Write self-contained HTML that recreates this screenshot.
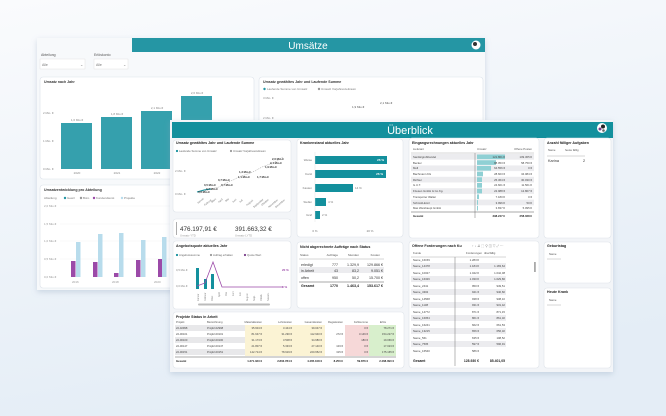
<!DOCTYPE html>
<html><head><meta charset="utf-8"><style>
html,body{margin:0;padding:0;width:666px;height:416px;overflow:hidden;background:#eef3f8}
svg{display:block;font-family:"Liberation Sans",sans-serif}
</style></head><body>
<svg width="666" height="416" viewBox="0 0 666 416" xmlns="http://www.w3.org/2000/svg">
<defs>
<linearGradient id="bg" x1="0" y1="0" x2="0.3" y2="1"><stop offset="0" stop-color="#fafbfd"/><stop offset="1" stop-color="#e4edf6"/></linearGradient>
<filter id="sh" x="-10%" y="-10%" width="120%" height="130%"><feDropShadow dx="0" dy="2" stdDeviation="3" flood-color="#8aa0b8" flood-opacity="0.35"/></filter>
</defs>
<rect width="666" height="416" fill="url(#bg)"/>

<!-- BACK DASHBOARD -->
<g>
<rect x="37" y="38" width="448" height="252" fill="#f7f9fb" filter="url(#sh)"/>
<rect x="132" y="38" width="353" height="14" fill="#2596a4"/>
<text x="308" y="49" font-size="10" fill="#fff" text-anchor="middle">Umsätze</text>
<circle cx="476" cy="45" r="4.5" fill="#fff"/><circle cx="475" cy="44" r="2" fill="#333"/>
<text x="41" y="56" font-size="3.5" fill="#555">Abteilung</text>
<rect x="40" y="59" width="45" height="10" fill="#fff" stroke="#ddd" stroke-width="0.4"/><text x="42" y="66" font-size="3.5" fill="#777">Alle</text><text x="80" y="66" font-size="4" fill="#888">⌄</text>
<text x="94" y="56" font-size="3.5" fill="#555">Erlöskonto</text>
<rect x="94" y="59" width="34" height="10" fill="#fff" stroke="#ddd" stroke-width="0.4"/><text x="96" y="66" font-size="3.5" fill="#777">Alle</text><text x="123" y="66" font-size="4" fill="#888">⌄</text>

<rect x="40" y="77" width="214" height="102" rx="3" fill="#fff" stroke="#dde3ea" stroke-width="0.6"/>
<text x="44" y="83" font-size="3.6" font-weight="bold" fill="#333">Umsatz nach Jahr</text>
<g font-size="3" fill="#888"><text x="43" y="114">2 Mio. €</text><text x="43" y="142">1 Mio. €</text><text x="43" y="170">0 Mio. €</text>
<text x="77" y="174" text-anchor="middle">2020</text><text x="117" y="174" text-anchor="middle">2021</text><text x="157" y="174" text-anchor="middle">2022</text><text x="197" y="174" text-anchor="middle">2023</text>
<text x="77" y="121" text-anchor="middle">1,6 Mio.€</text><text x="117" y="115" text-anchor="middle">1,8 Mio.€</text><text x="157" y="109" text-anchor="middle">2,1 Mio.€</text><text x="197" y="94" text-anchor="middle">2,6 Mio.€</text></g>
<g fill="#35a0ad"><rect x="61" y="123" width="31" height="46"/><rect x="101" y="117" width="31" height="52"/><rect x="141" y="111" width="31" height="58"/><rect x="181" y="96" width="31" height="73"/></g>

<rect x="259" y="77" width="224" height="60" rx="3" fill="#fff" stroke="#dde3ea" stroke-width="0.6"/>
<text x="263" y="83" font-size="3.6" font-weight="bold" fill="#333">Umsatz gewähltes Jahr und Laufende Summe</text>
<circle cx="264.5" cy="89" r="1.2" fill="#2596a4"/><text x="267" y="90" font-size="3" fill="#777">Laufende Summe von Umsatz</text>
<circle cx="319" cy="89" r="1.2" fill="#999"/><text x="321" y="90" font-size="3" fill="#777">Umsatz Vorjahreszeitraum</text>
<text x="263" y="99" font-size="3" fill="#888">3 Mio. €</text><text x="263" y="119" font-size="3" fill="#888">2 Mio. €</text>
<text x="380" y="104" font-size="3" fill="#555">2,1 Mio.€</text><text x="352" y="108" font-size="3" fill="#555">1,9 Mio.€</text>

<rect x="40" y="185" width="200" height="103" rx="3" fill="#fff" stroke="#dde3ea" stroke-width="0.6"/>
<text x="44" y="191" font-size="3.6" font-weight="bold" fill="#333">Umsatzentwicklung pro Abteilung</text>
<g font-size="3" fill="#777"><text x="44" y="199">Abteilung</text>
<circle cx="65" cy="198" r="1.2" fill="#2596a4"/><text x="67" y="199">Gewil</text>
<circle cx="81" cy="198" r="1.2" fill="#999"/><text x="83" y="199">Büro</text>
<circle cx="94" cy="198" r="1.2" fill="#9b4aa8"/><text x="96" y="199">Kundendienst</text>
<circle cx="122" cy="198" r="1.2" fill="#b8dcec"/><text x="124" y="199">Projekte</text></g>
<g font-size="3" fill="#999"><text x="44" y="207">2,0 Mio.€</text><text x="44" y="225">1,5 Mio.€</text><text x="44" y="242">1,0 Mio.€</text><text x="44" y="260">0,5 Mio.€</text><text x="44" y="278">0,0 Mio.€</text>
<text x="72" y="283">2016</text><text x="112" y="283">2018</text><text x="154" y="283">2020</text></g>
<g stroke="#eef0f3" stroke-width="0.4"><line x1="60" y1="206" x2="240" y2="206"/><line x1="60" y1="224" x2="240" y2="224"/><line x1="60" y1="241" x2="240" y2="241"/><line x1="60" y1="259" x2="240" y2="259"/></g>
<g fill="#9b4aa8"><rect x="71" y="261" width="4.5" height="16"/><rect x="93" y="262" width="4.5" height="15"/><rect x="114" y="273" width="4.5" height="4"/><rect x="136" y="260" width="4.5" height="17"/><rect x="158" y="259" width="4.5" height="18"/></g>
<g fill="#b8dcec"><rect x="76" y="242" width="4.5" height="35"/><rect x="98" y="234" width="4.5" height="43"/><rect x="119" y="233" width="4.5" height="44"/><rect x="141" y="240" width="4.5" height="37"/><rect x="162" y="237" width="4.5" height="40"/></g>
</g>

<!-- FRONT DASHBOARD -->
<rect x="170" y="120" width="443" height="252" fill="#f3f5f8" filter="url(#sh)"/>
<rect x="172" y="122" width="441" height="16" fill="#13909d"/>
<text x="410" y="134" font-size="11" fill="#fff" text-anchor="middle">Überblick</text>
<circle cx="602" cy="128" r="5" fill="#fff"/><circle cx="603" cy="126.5" r="2" fill="#222"/><circle cx="600" cy="129" r="1.5" fill="#7a3f8a"/><circle cx="603.5" cy="130.5" r="1.3" fill="#666"/>

<g fill="#fff" stroke="#dfe4ea" stroke-width="0.6">
<rect x="173" y="140" width="118" height="72" rx="3"/>
<rect x="173" y="219" width="118" height="19" rx="3"/>
<rect x="173" y="241" width="118" height="68" rx="3"/>
<rect x="297" y="139" width="106" height="98" rx="3"/>
<rect x="297" y="242" width="106" height="66" rx="3"/>
<rect x="173" y="312" width="231" height="56" rx="3"/>
<rect x="409" y="138" width="130" height="100" rx="3"/>
<rect x="409" y="241" width="130" height="127" rx="3"/>
<rect x="544" y="138" width="67" height="100" rx="3"/>
<rect x="544" y="242" width="67" height="41" rx="3"/>
<rect x="544" y="288" width="67" height="80" rx="3"/>
</g>

<!-- Umsatz gewähltes Jahr -->
<text x="176" y="144" font-size="3.6" font-weight="bold" fill="#222">Umsatz gewähltes Jahr und Laufende Summe</text>
<circle cx="177" cy="151" r="1.1" fill="#13909d"/><text x="179" y="152" font-size="2.8" fill="#666">Laufende Summe von Umsatz</text>
<circle cx="231" cy="151" r="1.1" fill="#999"/><text x="233" y="152" font-size="2.8" fill="#666">Umsatz Vorjahreszeitraum</text>
<text x="175" y="172" font-size="3" fill="#888">2 Mio. €</text><text x="175" y="195" font-size="3" fill="#888">0 Mio. €</text>
<polyline points="197,192 204,191 211,189 219,187 226,183 233,180 241,176 248,174 255,171 262,167 270,164 277,161 283,157" fill="none" stroke="#888" stroke-width="0.5" stroke-dasharray="1,1"/>
<polyline points="197,192 204,190 211,189" fill="none" stroke="#13909d" stroke-width="1"/>
<g font-size="2.8" font-weight="bold" fill="#333"><text x="198" y="193">0,6 Mio.€</text><text x="204" y="186">0,5 Mio.€</text><text x="206" y="190">0,7 Mio.€</text><text x="218" y="181">0,7 Mio.€</text><text x="221" y="186">0,7 Mio.€</text><text x="239" y="173">1,3 Mio.€</text><text x="238" y="178">1,1 Mio.€</text><text x="257" y="178">1,7 Mio.€</text><text x="265" y="168">1,9 Mio.€</text><text x="270" y="164">2,1 Mio.€</text><text x="272" y="160">2,6 Mio.€</text></g>
<g font-size="2.6" fill="#777">
<text transform="translate(198,204) rotate(-40)">Januar</text><text transform="translate(205,206) rotate(-40)">Februar</text><text transform="translate(212,203) rotate(-40)">März</text><text transform="translate(219,203) rotate(-40)">April</text><text transform="translate(226,202) rotate(-40)">Mai</text><text transform="translate(233,203) rotate(-40)">Juni</text><text transform="translate(240,203) rotate(-40)">Juli</text><text transform="translate(247,206) rotate(-40)">August</text><text transform="translate(254,208) rotate(-40)">September</text><text transform="translate(262,206) rotate(-40)">Oktober</text><text transform="translate(269,208) rotate(-40)">November</text><text transform="translate(276,208) rotate(-40)">Dezember</text></g>

<!-- KPI -->
<rect x="176" y="222" width="0.8" height="13" fill="#999"/>
<text x="180" y="231" font-size="6.3" fill="#333">476.197,91 €</text><text x="235" y="231" font-size="6.3" fill="#333">391.663,32 €</text>
<text x="180" y="236.5" font-size="2.8" fill="#999">Umsatz YTD</text><text x="235" y="236.5" font-size="2.8" fill="#999">Umsatz LYTD</text>

<!-- Angebotsquote -->
<text x="176" y="247" font-size="3.6" font-weight="bold" fill="#222">Angebotsquote aktuelles Jahr</text>
<circle cx="177" cy="255" r="1.1" fill="#13909d"/><text x="179" y="256" font-size="2.8" fill="#666">Angebotssumme</text>
<circle cx="211" cy="255" r="1.1" fill="#999"/><text x="213" y="256" font-size="2.8" fill="#666">Auftrag erhalten</text>
<circle cx="245" cy="255" r="1.1" fill="#7a3f8a"/><text x="247" y="256" font-size="2.8" fill="#666">Quote Wert</text>
<text x="176" y="271" font-size="2.8" fill="#888">0,5 Mio.€</text><text x="176" y="287" font-size="2.8" fill="#888">0,0 Mio.€</text>
<g fill="#13909d"><rect x="196" y="268" width="3" height="21"/><rect x="204" y="279" width="3" height="10"/><rect x="211" y="274" width="3" height="15"/></g>
<polyline points="197,286 205,283 213,262 222,287 283,287" fill="none" stroke="#9b4aa8" stroke-width="0.8"/>
<text x="282" y="271" font-size="3" font-weight="bold" fill="#9b4aa8">20 %</text><text x="282" y="288" font-size="3" font-weight="bold" fill="#9b4aa8">0 %</text>
<g font-size="2.4" fill="#888"><text transform="translate(199,301) rotate(-90)">Januar</text><text transform="translate(206,301) rotate(-90)">Februar</text><text transform="translate(213,301) rotate(-90)">März</text><text transform="translate(220,297) rotate(-90)">April</text><text transform="translate(227,296) rotate(-90)">Mai</text><text transform="translate(234,296) rotate(-90)">Juni</text><text transform="translate(241,296) rotate(-90)">Juli</text><text transform="translate(248,301) rotate(-90)">August</text><text transform="translate(255,301) rotate(-90)">Sept.</text><text transform="translate(262,301) rotate(-90)">Oktob.</text><text transform="translate(269,301) rotate(-90)">Novem.</text></g>
<rect x="198" y="303.5" width="72" height="2" rx="1" fill="#bbb"/>

<!-- Krankenstand -->
<text x="300" y="144" font-size="3.6" font-weight="bold" fill="#222">Krankenstand aktuelles Jahr</text>
<g fill="#13909d"><rect x="315" y="156" width="72" height="8"/><rect x="315" y="170" width="71" height="8"/><rect x="315" y="184" width="38" height="8"/><rect x="315" y="198" width="11" height="8"/><rect x="315" y="211" width="5" height="8"/></g>
<g font-size="3" fill="#777"><text x="312" y="161" text-anchor="end">Weise</text><text x="312" y="175" text-anchor="end">Karsl</text><text x="312" y="189" text-anchor="end">Kasten</text><text x="312" y="203" text-anchor="end">Stefan</text><text x="312" y="216" text-anchor="end">Graf</text>
<text x="355" y="189">14 %</text><text x="328" y="203">4 %</text><text x="322" y="216">2 %</text><text x="315" y="232" text-anchor="middle">0 %</text><text x="370" y="232" text-anchor="middle">20 %</text></g>
<text x="384" y="161" font-size="3" fill="#fff" text-anchor="end" font-weight="bold">26 %</text><text x="383" y="175" font-size="3" fill="#fff" text-anchor="end" font-weight="bold">26 %</text>
<line x1="315" y1="152" x2="315" y2="222" stroke="#ddd" stroke-width="0.4"/>

<!-- Nicht abgerechnete -->
<text x="300" y="248" font-size="3.6" font-weight="bold" fill="#222">Nicht abgerechnete Aufträge nach Status</text>
<g font-size="3" fill="#555"><text x="300" y="256">Status</text><text x="338" y="256" text-anchor="end">Aufträge</text><text x="359" y="256" text-anchor="end">Stunden</text><text x="380" y="256" text-anchor="end">Kosten</text></g>
<line x1="299" y1="259" x2="384" y2="259" stroke="#999" stroke-width="0.4"/>
<rect x="299" y="267" width="85" height="6" fill="#ececef"/>
<g font-size="3.6" fill="#333"><text x="301" y="266">erledigt</text><text x="338" y="266" text-anchor="end">777</text><text x="359" y="266" text-anchor="end">1.329,9</text><text x="383" y="266" text-anchor="end">129.866 €</text>
<text x="301" y="272">in Arbeit</text><text x="338" y="272" text-anchor="end">43</text><text x="359" y="272" text-anchor="end">83,2</text><text x="383" y="272" text-anchor="end">9.051 €</text>
<text x="301" y="279">offen</text><text x="338" y="279" text-anchor="end">950</text><text x="359" y="279" text-anchor="end">50,2</text><text x="383" y="279" text-anchor="end">15.700 €</text></g>
<line x1="299" y1="282" x2="384" y2="282" stroke="#555" stroke-width="0.5"/>
<g font-size="3.6" font-weight="bold" fill="#222"><text x="301" y="287">Gesamt</text><text x="338" y="287" text-anchor="end">1770</text><text x="359" y="287" text-anchor="end">1.463,4</text><text x="383" y="287" text-anchor="end">153.617 €</text></g>

<!-- Projekte Status -->
<text x="176" y="318" font-size="3.6" font-weight="bold" fill="#222">Projekte Status in Arbeit</text>
<g font-size="2.7" fill="#555"><text x="176" y="323">Projekt</text><text x="207" y="323">Bezeichnung</text><text x="262" y="323" text-anchor="end">Materialkosten</text><text x="292" y="323" text-anchor="end">Lohnkosten</text><text x="322" y="323" text-anchor="end">Gesamtkosten</text><text x="343" y="323" text-anchor="end">Regiekosten</text><text x="368" y="323" text-anchor="end">Fehlsumme</text><text x="386" y="323" text-anchor="end">Erlös</text></g>
<rect x="245" y="325" width="80" height="31" fill="#fbf3d4"/>
<rect x="345" y="325" width="24" height="31" fill="#f6d8d8"/>
<rect x="369" y="325" width="27" height="31" fill="#d8efcc"/>
<rect x="175" y="325" width="70" height="6" fill="#e8e8ea"/><rect x="175" y="337" width="70" height="6" fill="#e8e8ea"/><rect x="175" y="349" width="70" height="6" fill="#e8e8ea"/>
<g font-size="2.7" fill="#444">
<text x="176" y="329">22-02998</text><text x="207" y="329">Proj22-02998</text><text x="262" y="329" text-anchor="end">35.604 €</text><text x="292" y="329" text-anchor="end">3.444 €</text><text x="322" y="329" text-anchor="end">39.047 €</text><text x="368" y="329" text-anchor="end">0 €</text><text x="394" y="329" text-anchor="end">78.271 €</text>
<text x="176" y="335">22-00101</text><text x="207" y="335">Proj22-00101</text><text x="262" y="335" text-anchor="end">81.647 €</text><text x="292" y="335" text-anchor="end">31.290 €</text><text x="322" y="335" text-anchor="end">112.940 €</text><text x="343" y="335" text-anchor="end">272 €</text><text x="368" y="335" text-anchor="end">3.146 €</text><text x="394" y="335" text-anchor="end">154.227 €</text>
<text x="176" y="341">22-00100</text><text x="207" y="341">Proj22-00100</text><text x="262" y="341" text-anchor="end">31.173 €</text><text x="292" y="341" text-anchor="end">3.508 €</text><text x="322" y="341" text-anchor="end">34.680 €</text><text x="368" y="341" text-anchor="end">180 €</text><text x="394" y="341" text-anchor="end">19.066 €</text>
<text x="176" y="347">22-00147</text><text x="207" y="347">Proj22-00147</text><text x="262" y="347" text-anchor="end">21.807 €</text><text x="292" y="347" text-anchor="end">5.333 €</text><text x="322" y="347" text-anchor="end">27.140 €</text><text x="343" y="347" text-anchor="end">103 €</text><text x="368" y="347" text-anchor="end">0 €</text><text x="394" y="347" text-anchor="end">17.023 €</text>
<text x="176" y="353">22-00151</text><text x="207" y="353">Proj22-00151</text><text x="262" y="353" text-anchor="end">142.714 €</text><text x="292" y="353" text-anchor="end">78.919 €</text><text x="322" y="353" text-anchor="end">220.652 €</text><text x="343" y="353" text-anchor="end">315 €</text><text x="368" y="353" text-anchor="end">0 €</text><text x="394" y="353" text-anchor="end">175.165 €</text></g>
<line x1="175" y1="357" x2="396" y2="357" stroke="#555" stroke-width="0.5"/>
<g font-size="2.8" font-weight="bold" fill="#222"><text x="176" y="362">Gesamt</text><text x="262" y="362" text-anchor="end">1.371.323 €</text><text x="292" y="362" text-anchor="end">2.803.784 €</text><text x="322" y="362" text-anchor="end">4.465.108 €</text><text x="343" y="362" text-anchor="end">8.250 €</text><text x="368" y="362" text-anchor="end">59.876 €</text><text x="394" y="362" text-anchor="end">2.468.090 €</text></g>

<!-- Eingangsrechnungen -->
<text x="412" y="144" font-size="3.6" font-weight="bold" fill="#222">Eingangsrechnungen aktuelles Jahr</text>
<g font-size="2.8" fill="#555"><text x="413" y="150">Lieferant</text><text x="477" y="150">Umsatz</text><text x="532" y="150" text-anchor="end">Offene Posten</text></g>
<line x1="411" y1="153" x2="534" y2="153" stroke="#999" stroke-width="0.4"/>
<g fill="#ececef"><rect x="411" y="154" width="123" height="5.7"/><rect x="411" y="165.4" width="123" height="5.7"/><rect x="411" y="176.8" width="123" height="5.7"/><rect x="411" y="188.2" width="123" height="5.7"/><rect x="411" y="199.6" width="123" height="5.7"/></g>
<g fill="#8fd0d4"><rect x="477" y="154.5" width="28" height="4.7"/><rect x="477" y="160.2" width="19" height="4.7"/><rect x="477" y="165.9" width="14" height="4.7"/><rect x="477" y="171.6" width="6" height="4.7"/><rect x="477" y="177.3" width="5" height="4.7"/><rect x="477" y="183" width="5" height="4.7"/><rect x="477" y="188.7" width="5" height="4.7"/><rect x="477" y="194.4" width="2" height="4.7"/><rect x="477" y="200.1" width="1" height="4.7"/><rect x="477" y="205.8" width="1" height="4.7"/></g>
<line x1="475" y1="153" x2="475" y2="218" stroke="#888" stroke-width="0.6"/>
<g font-size="2.8" fill="#444">
<text x="413" y="158">Sanitärgroßhandel</text><text x="505" y="158" text-anchor="end">121.801 €</text><text x="532" y="158" text-anchor="end">109.305 €</text>
<text x="413" y="164">Becker</text><text x="505" y="164" text-anchor="end">88.053 €</text><text x="532" y="164" text-anchor="end">58.750 €</text>
<text x="413" y="169">Moll</text><text x="505" y="169" text-anchor="end">64.556 €</text><text x="532" y="169" text-anchor="end">0 €</text>
<text x="413" y="175">Bachmann KG</text><text x="505" y="175" text-anchor="end">28.603 €</text><text x="532" y="175" text-anchor="end">34.084 €</text>
<text x="413" y="181">Richter</text><text x="505" y="181" text-anchor="end">25.364 €</text><text x="532" y="181" text-anchor="end">30.030 €</text>
<text x="413" y="186">G.U.T.</text><text x="505" y="186" text-anchor="end">24.601 €</text><text x="532" y="186" text-anchor="end">11.561 €</text>
<text x="413" y="192">Friesen GmbH &amp; Co.Kg.</text><text x="505" y="192" text-anchor="end">22.988 €</text><text x="532" y="192" text-anchor="end">12.807 €</text>
<text x="413" y="198">Transporter Walter</text><text x="505" y="198" text-anchor="end">7.180 €</text><text x="532" y="198" text-anchor="end">0 €</text>
<text x="413" y="204">Schmidt-Emil</text><text x="505" y="204" text-anchor="end">3.996 €</text><text x="532" y="204" text-anchor="end">50 €</text>
<text x="413" y="209">Max Weishaupt GmbH</text><text x="505" y="209" text-anchor="end">3.837 €</text><text x="532" y="209" text-anchor="end">5.095 €</text></g>
<line x1="411" y1="212" x2="534" y2="212" stroke="#555" stroke-width="0.5"/>
<g font-size="2.8" font-weight="bold" fill="#222"><text x="413" y="217">Gesamt</text><text x="505" y="217" text-anchor="end">398.247 €</text><text x="532" y="217" text-anchor="end">258.028 €</text></g>

<!-- Offene Forderungen -->
<text x="412" y="247" font-size="3.6" font-weight="bold" fill="#222">Offene Forderungen nach Ku</text>
<text x="472" y="247" font-size="3.4" fill="#888">↑ ↓ ⇊ ⬚ ⚲ ◫ ▽ ⤢ ⋯</text>
<g font-size="2.8" fill="#555"><text x="413" y="254">Kunde</text><text x="466" y="254">Forderungen</text><text x="484" y="254">überfällig</text></g>
<line x1="411" y1="257" x2="506" y2="257" stroke="#999" stroke-width="0.4"/>
<g fill="#ececef"><rect x="411" y="263" width="95" height="6"/><rect x="411" y="276" width="95" height="6"/><rect x="411" y="289" width="95" height="6"/><rect x="411" y="302" width="95" height="6"/><rect x="411" y="315" width="95" height="6"/><rect x="411" y="328" width="95" height="6"/><rect x="411" y="341" width="95" height="6"/></g>
<line x1="455" y1="257" x2="455" y2="366" stroke="#888" stroke-width="0.6"/>
<rect x="534" y="262" width="1.8" height="10" fill="#aaa"/>
<g font-size="2.8" fill="#444">
<text x="413" y="261">Name_16159</text><text x="479" y="261" text-anchor="end">1.283 €</text>
<text x="413" y="267">Name_14478</text><text x="479" y="267" text-anchor="end">1.184 €</text><text x="505" y="267" text-anchor="end">1.183,62</text>
<text x="413" y="274">Name_10027</text><text x="479" y="274" text-anchor="end">1.042 €</text><text x="505" y="274" text-anchor="end">1.042,08</text>
<text x="413" y="280">Name_16326</text><text x="479" y="280" text-anchor="end">1.030 €</text><text x="505" y="280" text-anchor="end">1.029,80</text>
<text x="413" y="287">Name_2441</text><text x="479" y="287" text-anchor="end">950 €</text><text x="505" y="287" text-anchor="end">949,51</text>
<text x="413" y="293">Name_4302</text><text x="479" y="293" text-anchor="end">941 €</text><text x="505" y="293" text-anchor="end">940,60</text>
<text x="413" y="300">Name_14568</text><text x="479" y="300" text-anchor="end">938 €</text><text x="505" y="300" text-anchor="end">938,10</text>
<text x="413" y="306">Name_1138</text><text x="479" y="306" text-anchor="end">931 €</text><text x="505" y="306" text-anchor="end">931,42</text>
<text x="413" y="313">Name_14772</text><text x="479" y="313" text-anchor="end">871 €</text><text x="505" y="313" text-anchor="end">871,15</text>
<text x="413" y="319">Name_16054</text><text x="479" y="319" text-anchor="end">861 €</text><text x="505" y="319" text-anchor="end">861,32</text>
<text x="413" y="326">Name_16241</text><text x="479" y="326" text-anchor="end">662 €</text><text x="505" y="326" text-anchor="end">661,53</text>
<text x="413" y="332">Name_13215</text><text x="479" y="332" text-anchor="end">656 €</text><text x="505" y="332" text-anchor="end">656,32</text>
<text x="413" y="339">Name_561</text><text x="479" y="339" text-anchor="end">635 €</text><text x="505" y="339" text-anchor="end">108,52</text>
<text x="413" y="345">Name_7505</text><text x="479" y="345" text-anchor="end">597 €</text><text x="505" y="345" text-anchor="end">596,91</text>
<text x="413" y="352">Name_16540</text><text x="479" y="352" text-anchor="end">586 €</text></g>
<g font-size="3.4" font-weight="bold" fill="#222"><text x="413" y="362">Gesamt</text><text x="479" y="362" text-anchor="end">128.930 €</text><text x="505" y="362" text-anchor="end">85.401,05</text></g>

<!-- Right column -->
<text x="547" y="144" font-size="3.6" font-weight="bold" fill="#222">Anzahl fälliger Aufgaben</text>
<g font-size="2.8" fill="#555"><text x="548" y="151">Name</text><text x="565" y="151">heute fällig</text></g>
<line x1="547" y1="156" x2="585" y2="156" stroke="#999" stroke-width="0.4"/>
<text x="548" y="162" font-size="3.8" fill="#333">Karina</text><text x="583" y="162" font-size="3.8" fill="#333">2</text>
<text x="547" y="247" font-size="3.6" font-weight="bold" fill="#222">Geburtstag</text>
<text x="549" y="255" font-size="2.8" fill="#555">Name</text><line x1="547" y1="259" x2="561" y2="259" stroke="#999" stroke-width="0.4"/>
<text x="547" y="293" font-size="3.6" font-weight="bold" fill="#222">Heute Krank</text>
<text x="549" y="301" font-size="2.8" fill="#555">Name</text><line x1="547" y1="305" x2="561" y2="305" stroke="#999" stroke-width="0.4"/>
</svg>
</body></html>
